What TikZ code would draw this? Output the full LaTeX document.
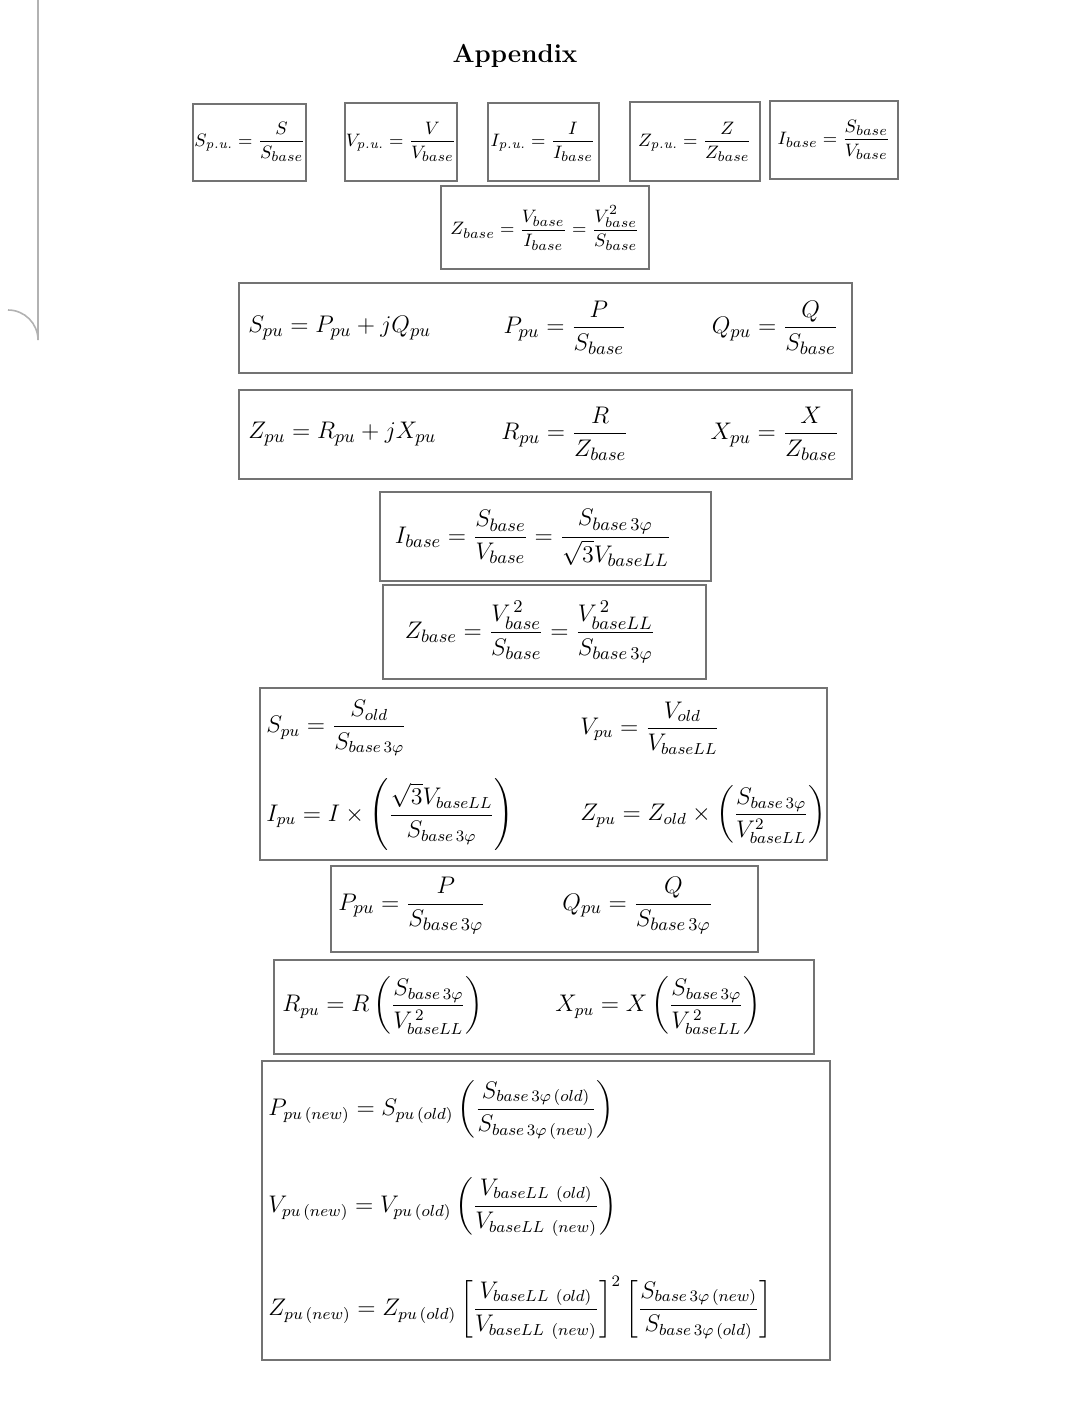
\documentclass[tikz,border=0pt]{standalone}
\usepackage{amsmath}
\begin{document}
\begin{tikzpicture}[x=0.5pt,y=-0.5pt,
  bx/.style={draw=black!55,line width=1.2pt},
  eq/.style={inner sep=0pt,font=\fontsize{13}{16}\selectfont},
  eqs/.style={inner sep=0pt,font=\fontsize{11.5}{14}\selectfont},
  sq/.style={inner sep=0pt,font=\fontsize{9.5}{12}\selectfont}]
\useasboundingbox (0,0) rectangle (1079,1418);
\draw[black!30,line width=0.8pt] (38,0) -- (38,340) arc[start angle=0,end angle=-90,radius=30];
\node[font=\bfseries\fontsize{13}{15}\selectfont] (title) at (515,56) {Appendix};
% small boxes
\draw[bx] (193,104) rectangle (306,181);
\draw[bx] (345,103) rectangle (457,181);
\draw[bx] (488,103) rectangle (599,181);
\draw[bx] (630,102) rectangle (760,181);
\draw[bx] (770,101) rectangle (898,179);
\node[sq] (e1) at (250,142) {$\displaystyle S_{\textit{p.u.}}=\frac{S}{S_{base}}$};
\node[sq] (e2) at (401,142) {$\displaystyle V_{\textit{p.u.}}=\frac{V}{V_{base}}$};
\node[sq] (e3) at (543,142) {$\displaystyle I_{\textit{p.u.}}=\frac{I}{I_{base}}$};
\node[sq] (e4) at (695,142) {$\displaystyle Z_{\textit{p.u.}}=\frac{Z}{Z_{base}}$};
\node[sq] (e5) at (834,140) {$\displaystyle I_{base}=\frac{S_{base}}{V_{base}}$};
\draw[bx] (441,186) rectangle (649,269);
\node[sq] (e6) at (545,228) {$\displaystyle Z_{base}=\frac{V_{base}}{I_{base}}=\frac{V^2_{base}}{S_{base}}$};
% box 7
\draw[bx] (239,283) rectangle (852,373);
\node[eq,anchor=west] (e7a) at (248,328) {$S_{pu}=P_{pu}+jQ_{pu}$};
\node[eq] (e7b) at (565,328) {$\displaystyle P_{pu}=\frac{P}{S_{base}}$};
\node[eq] (e7c) at (775,328) {$\displaystyle Q_{pu}=\frac{Q}{S_{base}}$};
% box 8
\draw[bx] (239,390) rectangle (852,479);
\node[eq,anchor=west] (e8a) at (248,434) {$Z_{pu}=R_{pu}+jX_{pu}$};
\node[eq] (e8b) at (565,434) {$\displaystyle R_{pu}=\frac{R}{Z_{base}}$};
\node[eq] (e8c) at (775,434) {$\displaystyle X_{pu}=\frac{X}{Z_{base}}$};
% box 9,10
\draw[bx] (380,492) rectangle (711,581);
\node[eq] (e9) at (533,538) {$\displaystyle I_{base}=\frac{S_{base}}{V_{base}}=\frac{S_{base\,3\varphi}}{\sqrt{3}V_{baseLL}}$};
\draw[bx] (383,585) rectangle (706,679);
\node[eq] (e10) at (530,632) {$\displaystyle Z_{base}=\frac{V^{\,2}_{base}}{S_{base}}=\frac{V^{\,2}_{baseLL}}{S_{base\,3\varphi}}$};
% box 11
\draw[bx] (260,688) rectangle (827,860);
\node[eqs,anchor=west] (e11a) at (266,728) {$\displaystyle S_{pu}=\frac{S_{old}}{S_{base\,3\varphi}}$};
\node[eqs,anchor=west] (e11b) at (580,728) {$\displaystyle V_{pu}=\frac{V_{old}}{V_{baseLL}}$};
\node[eqs,anchor=west] (e11c) at (266,815) {$\displaystyle I_{pu}=I\times\left(\frac{\sqrt{3}V_{baseLL}}{S_{base\,3\varphi}}\right)$};
\node[eqs,anchor=west] (e11d) at (580,815) {$\displaystyle Z_{pu}=Z_{old}\times\left(\frac{S_{base\,3\varphi}}{V^2_{baseLL}}\right)$};
% box 12
\draw[bx] (331,866) rectangle (758,952);
\node[eq,anchor=west] (e12a) at (338,906) {$\displaystyle P_{pu}=\frac{P}{S_{base\,3\varphi}}$};
\node[eq,anchor=west] (e12b) at (562,906) {$\displaystyle Q_{pu}=\frac{Q}{S_{base\,3\varphi}}$};
% box 13
\draw[bx] (274,960) rectangle (814,1054);
\node[eqs,anchor=west] (e13a) at (282,1006) {$\displaystyle R_{pu}=R\left(\frac{S_{base\,3\varphi}}{V^{\,2}_{baseLL}}\right)$};
\node[eqs,anchor=west] (e13b) at (555,1006) {$\displaystyle X_{pu}=X\left(\frac{S_{base\,3\varphi}}{V^{\,2}_{baseLL}}\right)$};
% box 14
\draw[bx] (262,1061) rectangle (830,1360);
\node[eqs,anchor=west] (e14a) at (268,1110) {$\displaystyle P_{pu\,(new)}=S_{pu\,(old)}\left(\frac{S_{base\,3\varphi\,(old)}}{S_{base\,3\varphi\,(new)}}\right)$};
\node[eqs,anchor=west] (e14b) at (268,1207) {$\displaystyle V_{pu\,(new)}=V_{pu\,(old)}\left(\frac{V_{baseLL\ (old)}}{V_{baseLL\ (new)}}\right)$};
\node[eqs,anchor=west] (e14c) at (268,1308) {$\displaystyle Z_{pu\,(new)}=Z_{pu\,(old)}\left[\frac{V_{baseLL\ (old)}}{V_{baseLL\ (new)}}\right]^2\left[\frac{S_{base\,3\varphi\,(new)}}{S_{base\,3\varphi\,(old)}}\right]$};
\end{tikzpicture}
\end{document}
